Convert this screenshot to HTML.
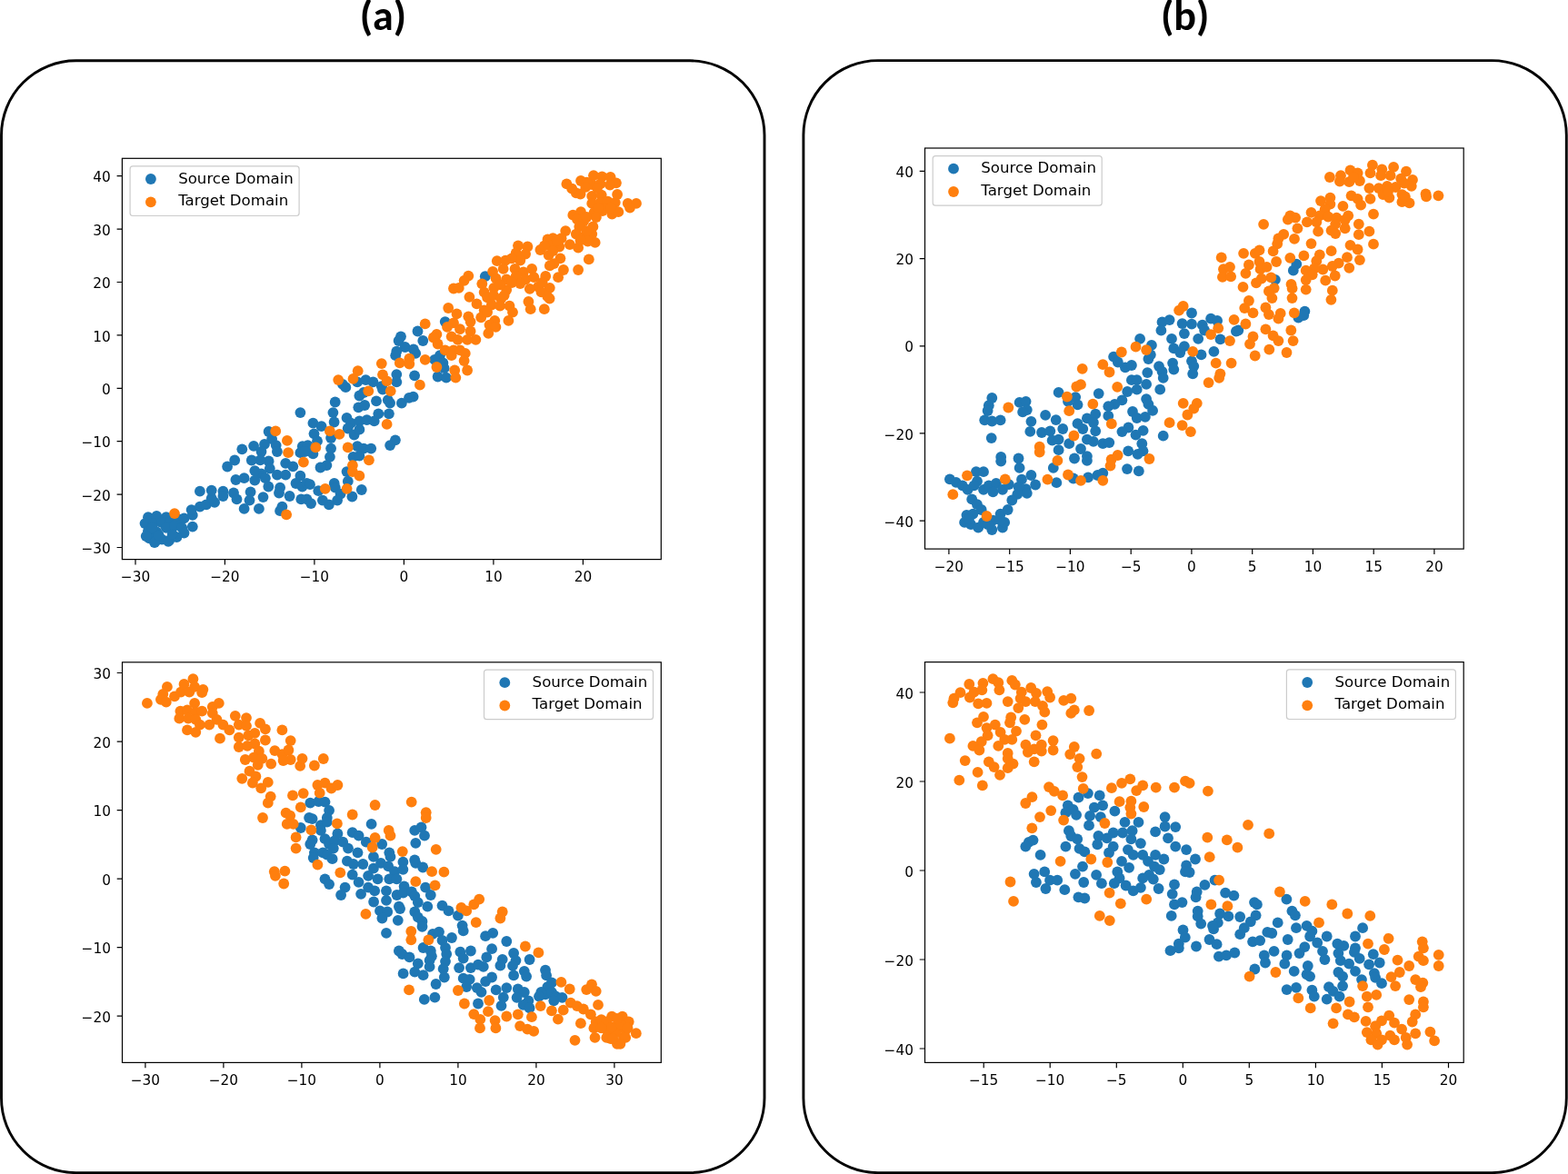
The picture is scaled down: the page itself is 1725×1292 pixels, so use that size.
<!DOCTYPE html>
<html><head><meta charset="utf-8"><title>t-SNE feature visualization</title>
<style>
html,body{margin:0;padding:0;background:#fff;width:1725px;height:1292px;overflow:hidden}
svg{display:block}
.tk{font-family:"DejaVu Sans","Liberation Sans",sans-serif;font-size:15.3px;fill:#000}
.lg{font-family:"DejaVu Sans","Liberation Sans",sans-serif;font-size:16.6px;fill:#000}
.ttl{font-family:Carlito,"Liberation Sans",sans-serif;font-weight:bold;font-size:46px;fill:#000}
</style></head><body>
<svg width="1725" height="1292" viewBox="0 0 1725 1292">
<rect width="1725" height="1292" fill="#fff"/>
<rect x="1.5" y="66.8" width="839.5" height="1223.8" rx="82" ry="82" fill="none" stroke="#000" stroke-width="2.9"/>
<rect x="883.9" y="66.6" width="839.4" height="1224.0" rx="82" ry="82" fill="none" stroke="#000" stroke-width="2.9"/>
<text x="421.4" y="32.6" class="ttl" text-anchor="middle" textLength="51.4" lengthAdjust="spacingAndGlyphs">(a)</text>
<text x="1303.7" y="32.6" class="ttl" text-anchor="middle" textLength="53.4" lengthAdjust="spacingAndGlyphs">(b)</text>
<svg x="134.4" y="174.3" width="592.9" height="441.3" viewBox="134.4 174.3 592.9 441.3" overflow="hidden"><g fill="#1f77b4"><circle cx="533.8" cy="304.2" r="5.9"/><circle cx="489.7" cy="354.1" r="5.9"/><circle cx="459.5" cy="364.5" r="5.9"/><circle cx="441.0" cy="370.3" r="5.9"/><circle cx="465.3" cy="375.0" r="5.9"/><circle cx="438.6" cy="375.0" r="5.9"/><circle cx="445.6" cy="382.0" r="5.9"/><circle cx="454.9" cy="384.3" r="5.9"/><circle cx="457.2" cy="388.9" r="5.9"/><circle cx="436.3" cy="386.6" r="5.9"/><circle cx="435.2" cy="391.2" r="5.9"/><circle cx="483.9" cy="391.2" r="5.9"/><circle cx="478.1" cy="395.9" r="5.9"/><circle cx="487.4" cy="399.4" r="5.9"/><circle cx="488.6" cy="405.2" r="5.9"/><circle cx="481.6" cy="414.5" r="5.9"/><circle cx="490.9" cy="415.6" r="5.9"/><circle cx="456.1" cy="413.3" r="5.9"/><circle cx="436.3" cy="412.1" r="5.9"/><circle cx="436.3" cy="420.3" r="5.9"/><circle cx="419.8" cy="425.1" r="5.9"/><circle cx="421.0" cy="428.6" r="5.9"/><circle cx="380.3" cy="426.2" r="5.9"/><circle cx="376.9" cy="422.8" r="5.9"/><circle cx="393.1" cy="420.4" r="5.9"/><circle cx="402.4" cy="418.1" r="5.9"/><circle cx="410.5" cy="420.4" r="5.9"/><circle cx="395.4" cy="435.5" r="5.9"/><circle cx="400.1" cy="432.0" r="5.9"/><circle cx="414.0" cy="441.3" r="5.9"/><circle cx="426.8" cy="440.2" r="5.9"/><circle cx="429.1" cy="443.6" r="5.9"/><circle cx="441.9" cy="443.6" r="5.9"/><circle cx="454.6" cy="436.7" r="5.9"/><circle cx="450.0" cy="437.8" r="5.9"/><circle cx="368.7" cy="442.5" r="5.9"/><circle cx="394.3" cy="448.3" r="5.9"/><circle cx="401.2" cy="446.0" r="5.9"/><circle cx="330.4" cy="454.1" r="5.9"/><circle cx="366.4" cy="454.1" r="5.9"/><circle cx="367.6" cy="464.5" r="5.9"/><circle cx="381.5" cy="459.9" r="5.9"/><circle cx="386.1" cy="465.7" r="5.9"/><circle cx="395.4" cy="463.4" r="5.9"/><circle cx="403.6" cy="462.2" r="5.9"/><circle cx="411.7" cy="463.4" r="5.9"/><circle cx="416.3" cy="455.3" r="5.9"/><circle cx="427.9" cy="455.3" r="5.9"/><circle cx="344.4" cy="465.7" r="5.9"/><circle cx="353.6" cy="469.2" r="5.9"/><circle cx="345.5" cy="477.3" r="5.9"/><circle cx="349.0" cy="485.4" r="5.9"/><circle cx="364.1" cy="482.0" r="5.9"/><circle cx="382.7" cy="471.5" r="5.9"/><circle cx="389.6" cy="478.5" r="5.9"/><circle cx="395.4" cy="472.7" r="5.9"/><circle cx="434.9" cy="484.3" r="5.9"/><circle cx="429.1" cy="490.1" r="5.9"/><circle cx="364.1" cy="493.6" r="5.9"/><circle cx="362.9" cy="502.8" r="5.9"/><circle cx="359.4" cy="512.1" r="5.9"/><circle cx="352.5" cy="514.5" r="5.9"/><circle cx="393.1" cy="491.2" r="5.9"/><circle cx="400.1" cy="493.6" r="5.9"/><circle cx="408.2" cy="493.6" r="5.9"/><circle cx="388.5" cy="502.8" r="5.9"/><circle cx="395.4" cy="501.7" r="5.9"/><circle cx="381.5" cy="519.1" r="5.9"/><circle cx="295.6" cy="475.0" r="5.9"/><circle cx="299.1" cy="483.1" r="5.9"/><circle cx="291.0" cy="488.9" r="5.9"/><circle cx="303.7" cy="490.1" r="5.9"/><circle cx="304.9" cy="497.0" r="5.9"/><circle cx="287.5" cy="497.0" r="5.9"/><circle cx="295.6" cy="507.5" r="5.9"/><circle cx="286.3" cy="506.3" r="5.9"/><circle cx="296.8" cy="515.6" r="5.9"/><circle cx="287.5" cy="521.4" r="5.9"/><circle cx="314.2" cy="509.8" r="5.9"/><circle cx="322.3" cy="513.3" r="5.9"/><circle cx="332.8" cy="491.2" r="5.9"/><circle cx="330.4" cy="498.2" r="5.9"/><circle cx="338.6" cy="490.1" r="5.9"/><circle cx="344.4" cy="499.4" r="5.9"/><circle cx="335.1" cy="497.0" r="5.9"/><circle cx="304.9" cy="522.6" r="5.9"/><circle cx="314.2" cy="522.6" r="5.9"/><circle cx="330.4" cy="523.7" r="5.9"/><circle cx="163.0" cy="569.2" r="5.9"/><circle cx="172.3" cy="568.0" r="5.9"/><circle cx="182.8" cy="569.2" r="5.9"/><circle cx="159.5" cy="576.1" r="5.9"/><circle cx="168.8" cy="576.1" r="5.9"/><circle cx="178.1" cy="575.0" r="5.9"/><circle cx="187.4" cy="573.8" r="5.9"/><circle cx="196.7" cy="571.5" r="5.9"/><circle cx="202.5" cy="570.3" r="5.9"/><circle cx="163.0" cy="584.3" r="5.9"/><circle cx="172.3" cy="585.4" r="5.9"/><circle cx="182.8" cy="580.8" r="5.9"/><circle cx="192.0" cy="578.5" r="5.9"/><circle cx="200.2" cy="580.8" r="5.9"/><circle cx="202.5" cy="586.6" r="5.9"/><circle cx="164.2" cy="592.4" r="5.9"/><circle cx="171.1" cy="595.9" r="5.9"/><circle cx="178.1" cy="593.6" r="5.9"/><circle cx="186.2" cy="594.7" r="5.9"/><circle cx="194.4" cy="591.2" r="5.9"/><circle cx="170.0" cy="597.0" r="5.9"/><circle cx="185.1" cy="595.9" r="5.9"/><circle cx="189.7" cy="587.8" r="5.9"/><circle cx="174.6" cy="588.9" r="5.9"/><circle cx="167.7" cy="580.8" r="5.9"/><circle cx="160.7" cy="590.1" r="5.9"/><circle cx="211.8" cy="579.6" r="5.9"/><circle cx="211.8" cy="566.9" r="5.9"/><circle cx="210.6" cy="561.1" r="5.9"/><circle cx="219.9" cy="557.6" r="5.9"/><circle cx="226.9" cy="555.3" r="5.9"/><circle cx="236.1" cy="552.9" r="5.9"/><circle cx="232.7" cy="548.3" r="5.9"/><circle cx="219.9" cy="540.7" r="5.9"/><circle cx="232.7" cy="539.6" r="5.9"/><circle cx="245.4" cy="540.7" r="5.9"/><circle cx="245.4" cy="546.0" r="5.9"/><circle cx="250.1" cy="513.5" r="5.9"/><circle cx="258.2" cy="506.5" r="5.9"/><circle cx="266.3" cy="494.3" r="5.9"/><circle cx="279.1" cy="490.8" r="5.9"/><circle cx="259.4" cy="528.0" r="5.9"/><circle cx="268.6" cy="526.2" r="5.9"/><circle cx="280.3" cy="528.6" r="5.9"/><circle cx="280.3" cy="518.1" r="5.9"/><circle cx="276.8" cy="506.5" r="5.9"/><circle cx="291.9" cy="526.2" r="5.9"/><circle cx="295.3" cy="535.5" r="5.9"/><circle cx="308.1" cy="536.7" r="5.9"/><circle cx="307.0" cy="542.5" r="5.9"/><circle cx="318.6" cy="546.0" r="5.9"/><circle cx="325.5" cy="532.0" r="5.9"/><circle cx="332.5" cy="535.5" r="5.9"/><circle cx="331.3" cy="549.4" r="5.9"/><circle cx="257.0" cy="542.5" r="5.9"/><circle cx="260.5" cy="549.4" r="5.9"/><circle cx="275.6" cy="541.3" r="5.9"/><circle cx="274.5" cy="550.6" r="5.9"/><circle cx="268.6" cy="559.9" r="5.9"/><circle cx="289.5" cy="547.1" r="5.9"/><circle cx="284.9" cy="559.9" r="5.9"/><circle cx="310.4" cy="557.6" r="5.9"/><circle cx="308.1" cy="562.2" r="5.9"/><circle cx="337.5" cy="532.0" r="5.9"/><circle cx="341.0" cy="533.2" r="5.9"/><circle cx="350.3" cy="540.2" r="5.9"/><circle cx="367.7" cy="532.0" r="5.9"/><circle cx="368.8" cy="536.7" r="5.9"/><circle cx="382.8" cy="529.7" r="5.9"/><circle cx="397.8" cy="539.0" r="5.9"/><circle cx="387.4" cy="546.5" r="5.9"/><circle cx="374.6" cy="543.6" r="5.9"/><circle cx="371.1" cy="550.6" r="5.9"/><circle cx="361.9" cy="555.3" r="5.9"/><circle cx="354.9" cy="550.6" r="5.9"/><circle cx="337.5" cy="549.4" r="5.9"/><circle cx="342.1" cy="554.1" r="5.9"/></g><g fill="#ff7f0e"><circle cx="623.4" cy="202.4" r="5.9"/><circle cx="633.8" cy="212.3" r="5.9"/><circle cx="638.5" cy="213.5" r="5.9"/><circle cx="639.0" cy="199.0" r="5.9"/><circle cx="653.0" cy="193.2" r="5.9"/><circle cx="662.3" cy="194.3" r="5.9"/><circle cx="671.6" cy="194.9" r="5.9"/><circle cx="677.9" cy="201.3" r="5.9"/><circle cx="651.2" cy="203.0" r="5.9"/><circle cx="660.5" cy="202.4" r="5.9"/><circle cx="645.4" cy="200.7" r="5.9"/><circle cx="629.2" cy="207.7" r="5.9"/><circle cx="651.2" cy="215.8" r="5.9"/><circle cx="661.7" cy="214.6" r="5.9"/><circle cx="679.1" cy="214.0" r="5.9"/><circle cx="651.2" cy="223.9" r="5.9"/><circle cx="660.5" cy="222.8" r="5.9"/><circle cx="668.6" cy="221.6" r="5.9"/><circle cx="676.8" cy="222.8" r="5.9"/><circle cx="653.6" cy="233.8" r="5.9"/><circle cx="662.8" cy="232.0" r="5.9"/><circle cx="673.3" cy="235.5" r="5.9"/><circle cx="680.3" cy="233.2" r="5.9"/><circle cx="690.7" cy="223.9" r="5.9"/><circle cx="700.0" cy="223.9" r="5.9"/><circle cx="693.0" cy="228.6" r="5.9"/><circle cx="630.3" cy="236.7" r="5.9"/><circle cx="639.0" cy="233.2" r="5.9"/><circle cx="635.0" cy="241.3" r="5.9"/><circle cx="642.0" cy="243.6" r="5.9"/><circle cx="637.3" cy="249.4" r="5.9"/><circle cx="652.4" cy="249.4" r="5.9"/><circle cx="622.2" cy="254.1" r="5.9"/><circle cx="651.2" cy="257.6" r="5.9"/><circle cx="633.8" cy="257.6" r="5.9"/><circle cx="643.1" cy="259.9" r="5.9"/><circle cx="654.7" cy="266.9" r="5.9"/><circle cx="646.6" cy="265.7" r="5.9"/><circle cx="636.1" cy="272.7" r="5.9"/><circle cx="626.9" cy="269.2" r="5.9"/><circle cx="617.6" cy="262.2" r="5.9"/><circle cx="608.3" cy="262.2" r="5.9"/><circle cx="602.5" cy="263.4" r="5.9"/><circle cx="615.3" cy="271.5" r="5.9"/><circle cx="606.0" cy="270.3" r="5.9"/><circle cx="594.4" cy="275.0" r="5.9"/><circle cx="603.6" cy="280.8" r="5.9"/><circle cx="616.4" cy="284.3" r="5.9"/><circle cx="609.4" cy="290.1" r="5.9"/><circle cx="604.8" cy="292.4" r="5.9"/><circle cx="619.9" cy="297.0" r="5.9"/><circle cx="614.1" cy="305.2" r="5.9"/><circle cx="600.2" cy="304.0" r="5.9"/><circle cx="604.8" cy="316.8" r="5.9"/><circle cx="592.0" cy="315.6" r="5.9"/><circle cx="647.8" cy="285.4" r="5.9"/><circle cx="636.1" cy="297.0" r="5.9"/><circle cx="570.0" cy="270.3" r="5.9"/><circle cx="580.4" cy="271.5" r="5.9"/><circle cx="578.1" cy="279.6" r="5.9"/><circle cx="567.7" cy="278.5" r="5.9"/><circle cx="572.3" cy="286.6" r="5.9"/><circle cx="563.0" cy="284.3" r="5.9"/><circle cx="546.8" cy="287.2" r="5.9"/><circle cx="556.1" cy="286.6" r="5.9"/><circle cx="542.1" cy="298.8" r="5.9"/><circle cx="553.7" cy="295.9" r="5.9"/><circle cx="566.5" cy="295.9" r="5.9"/><circle cx="575.8" cy="299.4" r="5.9"/><circle cx="585.1" cy="295.9" r="5.9"/><circle cx="578.1" cy="307.5" r="5.9"/><circle cx="567.7" cy="304.0" r="5.9"/><circle cx="557.2" cy="307.5" r="5.9"/><circle cx="545.6" cy="306.3" r="5.9"/><circle cx="543.3" cy="316.8" r="5.9"/><circle cx="557.2" cy="319.1" r="5.9"/><circle cx="582.8" cy="317.9" r="5.9"/><circle cx="595.5" cy="321.4" r="5.9"/><circle cx="671.0" cy="203.6" r="5.9"/><circle cx="657.0" cy="207.1" r="5.9"/><circle cx="644.3" cy="205.9" r="5.9"/><circle cx="665.2" cy="228.6" r="5.9"/><circle cx="658.2" cy="228.6" r="5.9"/><circle cx="672.1" cy="228.6" r="5.9"/><circle cx="645.4" cy="239.0" r="5.9"/><circle cx="638.5" cy="264.5" r="5.9"/><circle cx="645.4" cy="254.1" r="5.9"/><circle cx="612.9" cy="264.5" r="5.9"/><circle cx="599.0" cy="270.3" r="5.9"/><circle cx="608.3" cy="276.1" r="5.9"/><circle cx="587.4" cy="305.2" r="5.9"/><circle cx="572.3" cy="312.1" r="5.9"/><circle cx="563.0" cy="311.0" r="5.9"/><circle cx="550.3" cy="313.3" r="5.9"/><circle cx="596.7" cy="311.0" r="5.9"/><circle cx="655.9" cy="239.0" r="5.9"/><circle cx="602.3" cy="326.2" r="5.9"/><circle cx="604.6" cy="328.6" r="5.9"/><circle cx="581.4" cy="332.0" r="5.9"/><circle cx="583.7" cy="340.2" r="5.9"/><circle cx="598.8" cy="340.2" r="5.9"/><circle cx="515.3" cy="303.6" r="5.9"/><circle cx="510.6" cy="308.8" r="5.9"/><circle cx="499.0" cy="317.5" r="5.9"/><circle cx="504.8" cy="316.9" r="5.9"/><circle cx="530.3" cy="312.3" r="5.9"/><circle cx="532.7" cy="321.6" r="5.9"/><circle cx="516.4" cy="326.8" r="5.9"/><circle cx="524.5" cy="334.4" r="5.9"/><circle cx="536.1" cy="327.4" r="5.9"/><circle cx="543.1" cy="325.1" r="5.9"/><circle cx="540.8" cy="335.5" r="5.9"/><circle cx="551.2" cy="328.6" r="5.9"/><circle cx="554.7" cy="325.1" r="5.9"/><circle cx="560.5" cy="336.7" r="5.9"/><circle cx="564.0" cy="343.6" r="5.9"/><circle cx="550.1" cy="336.7" r="5.9"/><circle cx="532.7" cy="341.3" r="5.9"/><circle cx="529.2" cy="349.4" r="5.9"/><circle cx="536.1" cy="343.6" r="5.9"/><circle cx="515.3" cy="348.3" r="5.9"/><circle cx="517.6" cy="354.1" r="5.9"/><circle cx="502.5" cy="345.4" r="5.9"/><circle cx="493.2" cy="339.0" r="5.9"/><circle cx="559.4" cy="352.9" r="5.9"/><circle cx="544.3" cy="352.9" r="5.9"/><circle cx="538.5" cy="357.6" r="5.9"/><circle cx="545.4" cy="359.9" r="5.9"/><circle cx="537.3" cy="366.9" r="5.9"/><circle cx="467.7" cy="356.4" r="5.9"/><circle cx="499.0" cy="355.3" r="5.9"/><circle cx="492.0" cy="359.9" r="5.9"/><circle cx="506.0" cy="362.2" r="5.9"/><circle cx="517.6" cy="364.5" r="5.9"/><circle cx="523.4" cy="373.8" r="5.9"/><circle cx="514.1" cy="373.8" r="5.9"/><circle cx="496.7" cy="370.3" r="5.9"/><circle cx="503.6" cy="373.8" r="5.9"/><circle cx="480.4" cy="368.0" r="5.9"/><circle cx="476.9" cy="371.5" r="5.9"/><circle cx="481.6" cy="378.5" r="5.9"/><circle cx="489.7" cy="385.4" r="5.9"/><circle cx="499.0" cy="385.4" r="5.9"/><circle cx="506.0" cy="385.4" r="5.9"/><circle cx="511.8" cy="388.9" r="5.9"/><circle cx="496.7" cy="391.2" r="5.9"/><circle cx="510.6" cy="397.0" r="5.9"/><circle cx="514.1" cy="407.5" r="5.9"/><circle cx="500.2" cy="407.5" r="5.9"/><circle cx="501.3" cy="415.6" r="5.9"/><circle cx="467.7" cy="395.9" r="5.9"/><circle cx="450.3" cy="394.7" r="5.9"/><circle cx="450.3" cy="400.5" r="5.9"/><circle cx="439.8" cy="399.4" r="5.9"/><circle cx="480.4" cy="404.0" r="5.9"/><circle cx="461.9" cy="423.7" r="5.9"/><circle cx="372.2" cy="418.1" r="5.9"/><circle cx="388.5" cy="416.9" r="5.9"/><circle cx="393.7" cy="408.2" r="5.9"/><circle cx="419.8" cy="400.1" r="5.9"/><circle cx="421.0" cy="412.3" r="5.9"/><circle cx="425.6" cy="419.3" r="5.9"/><circle cx="429.7" cy="430.3" r="5.9"/><circle cx="405.3" cy="430.3" r="5.9"/><circle cx="425.6" cy="466.9" r="5.9"/><circle cx="362.9" cy="474.4" r="5.9"/><circle cx="373.4" cy="477.9" r="5.9"/><circle cx="303.2" cy="474.4" r="5.9"/><circle cx="315.9" cy="484.9" r="5.9"/><circle cx="317.1" cy="498.2" r="5.9"/><circle cx="347.3" cy="492.4" r="5.9"/><circle cx="333.9" cy="508.6" r="5.9"/><circle cx="382.7" cy="492.4" r="5.9"/><circle cx="405.9" cy="506.3" r="5.9"/><circle cx="387.9" cy="512.1" r="5.9"/><circle cx="387.9" cy="519.1" r="5.9"/><circle cx="395.4" cy="523.7" r="5.9"/><circle cx="192.0" cy="565.1" r="5.9"/><circle cx="315.1" cy="566.3" r="5.9"/><circle cx="381.6" cy="537.8" r="5.9"/><circle cx="357.8" cy="537.8" r="5.9"/></g></svg>
<rect x="134.4" y="174.3" width="592.9" height="441.3" fill="none" stroke="#000" stroke-width="1.2"/>
<text x="149.0" y="640.3" class="tk" text-anchor="middle">−30</text>
<text x="247.4" y="640.3" class="tk" text-anchor="middle">−20</text>
<text x="345.9" y="640.3" class="tk" text-anchor="middle">−10</text>
<text x="444.4" y="640.3" class="tk" text-anchor="middle">0</text>
<text x="542.9" y="640.3" class="tk" text-anchor="middle">10</text>
<text x="641.4" y="640.3" class="tk" text-anchor="middle">20</text>
<text x="121.8" y="609.2" class="tk" text-anchor="end">−30</text>
<text x="121.8" y="550.8" class="tk" text-anchor="end">−20</text>
<text x="121.8" y="492.4" class="tk" text-anchor="end">−10</text>
<text x="121.8" y="434.0" class="tk" text-anchor="end">0</text>
<text x="121.8" y="375.6" class="tk" text-anchor="end">10</text>
<text x="121.8" y="317.2" class="tk" text-anchor="end">20</text>
<text x="121.8" y="258.8" class="tk" text-anchor="end">30</text>
<text x="121.8" y="200.4" class="tk" text-anchor="end">40</text>
<path d="M149.0 615.6v5.8M247.4 615.6v5.8M345.9 615.6v5.8M444.4 615.6v5.8M542.9 615.6v5.8M641.4 615.6v5.8M134.4 602.5h-5.8M134.4 544.1h-5.8M134.4 485.7h-5.8M134.4 427.3h-5.8M134.4 368.9h-5.8M134.4 310.5h-5.8M134.4 252.1h-5.8M134.4 193.7h-5.8" stroke="#000" stroke-width="1.2" fill="none"/>
<rect x="143.1" y="182.9" width="186" height="54.6" rx="3" fill="#fff" fill-opacity="0.8" stroke="#cccccc" stroke-width="1.2"/>
<circle cx="165.9" cy="197.0" r="5.9" fill="#1f77b4"/>
<circle cx="165.9" cy="222.3" r="5.9" fill="#ff7f0e"/>
<text x="196.2" y="201.7" class="lg">Source Domain</text>
<text x="196.2" y="226.2" class="lg">Target Domain</text>
<svg x="134.5" y="728.8" width="592.8" height="440.6" viewBox="134.5 728.8 592.8 440.6" overflow="hidden"><g fill="#1f77b4"><circle cx="341.3" cy="883.7" r="5.9"/><circle cx="350.5" cy="882.0" r="5.9"/><circle cx="357.5" cy="882.6" r="5.9"/><circle cx="362.1" cy="891.8" r="5.9"/><circle cx="359.8" cy="900.0" r="5.9"/><circle cx="340.1" cy="900.0" r="5.9"/><circle cx="343.6" cy="901.1" r="5.9"/><circle cx="352.9" cy="908.1" r="5.9"/><circle cx="359.8" cy="904.6" r="5.9"/><circle cx="352.9" cy="913.9" r="5.9"/><circle cx="330.8" cy="911.0" r="5.9"/><circle cx="371.4" cy="917.4" r="5.9"/><circle cx="387.7" cy="916.2" r="5.9"/><circle cx="394.6" cy="919.7" r="5.9"/><circle cx="402.8" cy="926.7" r="5.9"/><circle cx="408.6" cy="906.9" r="5.9"/><circle cx="343.6" cy="924.3" r="5.9"/><circle cx="341.3" cy="929.0" r="5.9"/><circle cx="357.5" cy="923.2" r="5.9"/><circle cx="362.1" cy="929.0" r="5.9"/><circle cx="368.0" cy="925.5" r="5.9"/><circle cx="377.2" cy="926.7" r="5.9"/><circle cx="383.0" cy="933.6" r="5.9"/><circle cx="366.8" cy="933.6" r="5.9"/><circle cx="345.9" cy="938.3" r="5.9"/><circle cx="344.7" cy="944.1" r="5.9"/><circle cx="355.2" cy="938.3" r="5.9"/><circle cx="359.8" cy="940.6" r="5.9"/><circle cx="365.6" cy="945.2" r="5.9"/><circle cx="393.5" cy="938.3" r="5.9"/><circle cx="381.9" cy="947.6" r="5.9"/><circle cx="388.8" cy="951.0" r="5.9"/><circle cx="399.3" cy="951.0" r="5.9"/><circle cx="410.9" cy="942.9" r="5.9"/><circle cx="410.9" cy="955.7" r="5.9"/><circle cx="420.2" cy="929.0" r="5.9"/><circle cx="428.3" cy="938.3" r="5.9"/><circle cx="429.5" cy="942.9" r="5.9"/><circle cx="419.0" cy="949.9" r="5.9"/><circle cx="427.2" cy="953.4" r="5.9"/><circle cx="434.1" cy="959.2" r="5.9"/><circle cx="443.4" cy="948.7" r="5.9"/><circle cx="443.4" cy="956.8" r="5.9"/><circle cx="456.2" cy="946.4" r="5.9"/><circle cx="456.2" cy="913.9" r="5.9"/><circle cx="457.3" cy="927.8" r="5.9"/><circle cx="387.7" cy="962.6" r="5.9"/><circle cx="394.6" cy="970.8" r="5.9"/><circle cx="405.1" cy="963.8" r="5.9"/><circle cx="415.5" cy="967.3" r="5.9"/><circle cx="428.3" cy="967.3" r="5.9"/><circle cx="436.4" cy="967.3" r="5.9"/><circle cx="357.5" cy="967.3" r="5.9"/><circle cx="362.1" cy="973.1" r="5.9"/><circle cx="379.6" cy="976.6" r="5.9"/><circle cx="405.1" cy="976.6" r="5.9"/><circle cx="444.6" cy="975.4" r="5.9"/><circle cx="457.3" cy="949.9" r="5.9"/><circle cx="463.5" cy="910.4" r="5.9"/><circle cx="467.0" cy="919.7" r="5.9"/><circle cx="465.2" cy="954.5" r="5.9"/><circle cx="468.1" cy="976.6" r="5.9"/><circle cx="375.1" cy="985.0" r="5.9"/><circle cx="397.1" cy="983.8" r="5.9"/><circle cx="412.2" cy="980.3" r="5.9"/><circle cx="425.0" cy="980.3" r="5.9"/><circle cx="411.1" cy="992.5" r="5.9"/><circle cx="425.0" cy="990.8" r="5.9"/><circle cx="436.6" cy="985.0" r="5.9"/><circle cx="443.6" cy="982.6" r="5.9"/><circle cx="452.9" cy="981.5" r="5.9"/><circle cx="456.3" cy="986.1" r="5.9"/><circle cx="473.8" cy="985.0" r="5.9"/><circle cx="438.9" cy="997.7" r="5.9"/><circle cx="440.1" cy="1000.1" r="5.9"/><circle cx="459.8" cy="993.1" r="5.9"/><circle cx="470.3" cy="997.7" r="5.9"/><circle cx="486.5" cy="996.6" r="5.9"/><circle cx="493.5" cy="1002.4" r="5.9"/><circle cx="503.9" cy="1007.6" r="5.9"/><circle cx="418.0" cy="1002.4" r="5.9"/><circle cx="426.2" cy="1003.5" r="5.9"/><circle cx="420.4" cy="1010.5" r="5.9"/><circle cx="437.8" cy="1012.8" r="5.9"/><circle cx="456.3" cy="1003.5" r="5.9"/><circle cx="459.8" cy="1009.3" r="5.9"/><circle cx="464.5" cy="1014.0" r="5.9"/><circle cx="464.5" cy="1019.8" r="5.9"/><circle cx="425.0" cy="1026.8" r="5.9"/><circle cx="476.1" cy="1027.9" r="5.9"/><circle cx="483.0" cy="1025.6" r="5.9"/><circle cx="497.0" cy="1032.0" r="5.9"/><circle cx="508.6" cy="1018.6" r="5.9"/><circle cx="509.7" cy="1024.4" r="5.9"/><circle cx="486.5" cy="1034.9" r="5.9"/><circle cx="490.0" cy="1043.0" r="5.9"/><circle cx="491.2" cy="1050.0" r="5.9"/><circle cx="490.0" cy="1058.1" r="5.9"/><circle cx="487.7" cy="1066.2" r="5.9"/><circle cx="488.8" cy="1075.5" r="5.9"/><circle cx="438.9" cy="1046.5" r="5.9"/><circle cx="442.4" cy="1050.0" r="5.9"/><circle cx="450.5" cy="1053.4" r="5.9"/><circle cx="465.6" cy="1043.0" r="5.9"/><circle cx="473.8" cy="1046.5" r="5.9"/><circle cx="474.9" cy="1052.3" r="5.9"/><circle cx="472.6" cy="1056.9" r="5.9"/><circle cx="459.8" cy="1060.4" r="5.9"/><circle cx="472.6" cy="1063.9" r="5.9"/><circle cx="456.3" cy="1069.7" r="5.9"/><circle cx="465.6" cy="1073.2" r="5.9"/><circle cx="443.6" cy="1071.4" r="5.9"/><circle cx="479.6" cy="1083.0" r="5.9"/><circle cx="466.8" cy="1099.9" r="5.9"/><circle cx="478.4" cy="1097.6" r="5.9"/><circle cx="506.3" cy="1047.6" r="5.9"/><circle cx="509.7" cy="1054.6" r="5.9"/><circle cx="517.9" cy="1046.5" r="5.9"/><circle cx="505.1" cy="1065.1" r="5.9"/><circle cx="517.9" cy="1065.1" r="5.9"/><circle cx="526.0" cy="1061.6" r="5.9"/><circle cx="531.8" cy="1063.9" r="5.9"/><circle cx="535.3" cy="1053.4" r="5.9"/><circle cx="541.1" cy="1044.2" r="5.9"/><circle cx="534.1" cy="1030.2" r="5.9"/><circle cx="542.2" cy="1026.8" r="5.9"/><circle cx="557.3" cy="1036.0" r="5.9"/><circle cx="552.7" cy="1055.8" r="5.9"/><circle cx="550.4" cy="1062.7" r="5.9"/><circle cx="509.7" cy="1076.7" r="5.9"/><circle cx="516.7" cy="1077.8" r="5.9"/><circle cx="513.2" cy="1086.0" r="5.9"/><circle cx="524.8" cy="1087.1" r="5.9"/><circle cx="529.5" cy="1091.8" r="5.9"/><circle cx="534.1" cy="1080.1" r="5.9"/><circle cx="541.1" cy="1075.5" r="5.9"/><circle cx="545.7" cy="1089.4" r="5.9"/><circle cx="557.3" cy="1087.1" r="5.9"/><circle cx="553.8" cy="1097.6" r="5.9"/><circle cx="551.5" cy="1106.8" r="5.9"/><circle cx="526.0" cy="1104.5" r="5.9"/><circle cx="600.0" cy="1094.3" r="5.9"/><circle cx="609.3" cy="1095.4" r="5.9"/><circle cx="602.3" cy="1086.2" r="5.9"/><circle cx="565.1" cy="1049.0" r="5.9"/><circle cx="567.5" cy="1057.1" r="5.9"/><circle cx="564.0" cy="1062.9" r="5.9"/><circle cx="582.6" cy="1056.0" r="5.9"/><circle cx="576.8" cy="1068.8" r="5.9"/><circle cx="579.1" cy="1074.6" r="5.9"/><circle cx="565.1" cy="1073.4" r="5.9"/><circle cx="600.0" cy="1067.6" r="5.9"/><circle cx="601.1" cy="1073.4" r="5.9"/><circle cx="606.9" cy="1081.5" r="5.9"/><circle cx="569.8" cy="1088.5" r="5.9"/><circle cx="576.8" cy="1092.0" r="5.9"/><circle cx="568.6" cy="1097.8" r="5.9"/><circle cx="581.4" cy="1101.3" r="5.9"/><circle cx="575.6" cy="1105.9" r="5.9"/><circle cx="582.6" cy="1109.4" r="5.9"/><circle cx="595.3" cy="1092.0" r="5.9"/><circle cx="593.0" cy="1096.6" r="5.9"/><circle cx="606.9" cy="1092.0" r="5.9"/><circle cx="611.6" cy="1096.6" r="5.9"/><circle cx="618.5" cy="1097.8" r="5.9"/><circle cx="609.3" cy="1101.3" r="5.9"/></g><g fill="#ff7f0e"><circle cx="161.9" cy="773.9" r="5.9"/><circle cx="183.9" cy="755.9" r="5.9"/><circle cx="179.3" cy="764.0" r="5.9"/><circle cx="176.9" cy="769.8" r="5.9"/><circle cx="182.8" cy="772.7" r="5.9"/><circle cx="192.0" cy="766.3" r="5.9"/><circle cx="199.0" cy="761.7" r="5.9"/><circle cx="202.5" cy="753.0" r="5.9"/><circle cx="208.3" cy="761.7" r="5.9"/><circle cx="212.4" cy="747.2" r="5.9"/><circle cx="214.1" cy="755.9" r="5.9"/><circle cx="223.4" cy="758.8" r="5.9"/><circle cx="222.2" cy="762.2" r="5.9"/><circle cx="198.4" cy="782.6" r="5.9"/><circle cx="197.3" cy="790.7" r="5.9"/><circle cx="206.0" cy="781.4" r="5.9"/><circle cx="214.1" cy="773.9" r="5.9"/><circle cx="215.3" cy="783.7" r="5.9"/><circle cx="222.2" cy="782.6" r="5.9"/><circle cx="207.1" cy="790.7" r="5.9"/><circle cx="215.3" cy="791.8" r="5.9"/><circle cx="206.0" cy="803.4" r="5.9"/><circle cx="215.3" cy="805.8" r="5.9"/><circle cx="219.9" cy="797.6" r="5.9"/><circle cx="230.3" cy="797.6" r="5.9"/><circle cx="233.8" cy="777.9" r="5.9"/><circle cx="240.8" cy="773.9" r="5.9"/><circle cx="233.8" cy="784.9" r="5.9"/><circle cx="238.5" cy="791.8" r="5.9"/><circle cx="245.4" cy="797.6" r="5.9"/><circle cx="252.4" cy="803.4" r="5.9"/><circle cx="242.0" cy="812.7" r="5.9"/><circle cx="258.8" cy="787.8" r="5.9"/><circle cx="271.0" cy="790.1" r="5.9"/><circle cx="262.8" cy="797.6" r="5.9"/><circle cx="271.0" cy="798.8" r="5.9"/><circle cx="286.1" cy="795.9" r="5.9"/><circle cx="291.9" cy="802.3" r="5.9"/><circle cx="262.8" cy="811.6" r="5.9"/><circle cx="273.3" cy="809.3" r="5.9"/><circle cx="280.3" cy="806.9" r="5.9"/><circle cx="291.9" cy="814.5" r="5.9"/><circle cx="262.8" cy="822.0" r="5.9"/><circle cx="272.1" cy="820.9" r="5.9"/><circle cx="280.3" cy="818.5" r="5.9"/><circle cx="284.9" cy="826.7" r="5.9"/><circle cx="269.8" cy="836.0" r="5.9"/><circle cx="279.1" cy="833.6" r="5.9"/><circle cx="288.4" cy="834.8" r="5.9"/><circle cx="283.7" cy="841.8" r="5.9"/><circle cx="298.2" cy="840.6" r="5.9"/><circle cx="302.3" cy="826.1" r="5.9"/><circle cx="310.4" cy="830.1" r="5.9"/><circle cx="317.4" cy="825.5" r="5.9"/><circle cx="319.7" cy="815.1" r="5.9"/><circle cx="310.4" cy="803.4" r="5.9"/><circle cx="319.7" cy="836.0" r="5.9"/><circle cx="311.6" cy="837.1" r="5.9"/><circle cx="330.2" cy="842.9" r="5.9"/><circle cx="332.5" cy="834.8" r="5.9"/><circle cx="266.3" cy="856.8" r="5.9"/><circle cx="274.5" cy="848.7" r="5.9"/><circle cx="281.4" cy="854.5" r="5.9"/><circle cx="277.9" cy="861.5" r="5.9"/><circle cx="287.2" cy="867.3" r="5.9"/><circle cx="294.8" cy="860.9" r="5.9"/><circle cx="297.7" cy="876.6" r="5.9"/><circle cx="322.0" cy="875.4" r="5.9"/><circle cx="333.7" cy="873.1" r="5.9"/><circle cx="345.9" cy="842.5" r="5.9"/><circle cx="355.8" cy="835.0" r="5.9"/><circle cx="294.8" cy="883.7" r="5.9"/><circle cx="289.0" cy="900.0" r="5.9"/><circle cx="349.4" cy="864.0" r="5.9"/><circle cx="357.5" cy="861.7" r="5.9"/><circle cx="364.5" cy="867.5" r="5.9"/><circle cx="371.4" cy="864.0" r="5.9"/><circle cx="351.7" cy="872.7" r="5.9"/><circle cx="330.8" cy="888.4" r="5.9"/><circle cx="314.6" cy="894.7" r="5.9"/><circle cx="319.2" cy="897.6" r="5.9"/><circle cx="315.7" cy="906.9" r="5.9"/><circle cx="322.7" cy="906.9" r="5.9"/><circle cx="342.4" cy="913.3" r="5.9"/><circle cx="370.9" cy="906.4" r="5.9"/><circle cx="387.7" cy="896.5" r="5.9"/><circle cx="412.6" cy="886.0" r="5.9"/><circle cx="452.7" cy="882.6" r="5.9"/><circle cx="325.6" cy="921.4" r="5.9"/><circle cx="325.6" cy="933.6" r="5.9"/><circle cx="412.6" cy="922.0" r="5.9"/><circle cx="409.7" cy="932.5" r="5.9"/><circle cx="427.7" cy="913.9" r="5.9"/><circle cx="429.5" cy="919.7" r="5.9"/><circle cx="442.8" cy="937.1" r="5.9"/><circle cx="349.4" cy="951.6" r="5.9"/><circle cx="374.3" cy="960.3" r="5.9"/><circle cx="301.8" cy="959.2" r="5.9"/><circle cx="313.4" cy="958.6" r="5.9"/><circle cx="302.9" cy="963.8" r="5.9"/><circle cx="312.2" cy="972.5" r="5.9"/><circle cx="457.3" cy="970.2" r="5.9"/><circle cx="468.7" cy="894.2" r="5.9"/><circle cx="468.7" cy="900.0" r="5.9"/><circle cx="479.7" cy="934.8" r="5.9"/><circle cx="475.1" cy="959.2" r="5.9"/><circle cx="488.4" cy="959.7" r="5.9"/><circle cx="478.6" cy="974.3" r="5.9"/><circle cx="402.4" cy="1005.9" r="5.9"/><circle cx="507.4" cy="998.9" r="5.9"/><circle cx="513.2" cy="1002.4" r="5.9"/><circle cx="521.3" cy="995.4" r="5.9"/><circle cx="527.2" cy="989.6" r="5.9"/><circle cx="552.7" cy="1003.5" r="5.9"/><circle cx="550.4" cy="1010.5" r="5.9"/><circle cx="523.7" cy="1015.1" r="5.9"/><circle cx="452.3" cy="1025.0" r="5.9"/><circle cx="452.3" cy="1034.3" r="5.9"/><circle cx="471.4" cy="1034.3" r="5.9"/><circle cx="450.0" cy="1089.4" r="5.9"/><circle cx="503.9" cy="1090.0" r="5.9"/><circle cx="510.9" cy="1104.5" r="5.9"/><circle cx="538.2" cy="1101.0" r="5.9"/><circle cx="537.0" cy="1113.2" r="5.9"/><circle cx="521.3" cy="1116.1" r="5.9"/><circle cx="528.3" cy="1121.9" r="5.9"/><circle cx="544.6" cy="1123.1" r="5.9"/><circle cx="557.3" cy="1118.5" r="5.9"/><circle cx="577.9" cy="1041.5" r="5.9"/><circle cx="592.4" cy="1048.4" r="5.9"/><circle cx="617.4" cy="1080.9" r="5.9"/><circle cx="626.7" cy="1088.5" r="5.9"/><circle cx="645.2" cy="1089.1" r="5.9"/><circle cx="651.0" cy="1083.3" r="5.9"/><circle cx="655.7" cy="1090.8" r="5.9"/><circle cx="658.0" cy="1105.9" r="5.9"/><circle cx="528.0" cy="1131.4" r="5.9"/><circle cx="545.4" cy="1131.4" r="5.9"/><circle cx="569.8" cy="1116.3" r="5.9"/><circle cx="584.9" cy="1119.2" r="5.9"/><circle cx="572.1" cy="1129.1" r="5.9"/><circle cx="580.2" cy="1132.6" r="5.9"/><circle cx="587.2" cy="1134.9" r="5.9"/><circle cx="594.7" cy="1107.1" r="5.9"/><circle cx="606.9" cy="1112.3" r="5.9"/><circle cx="619.7" cy="1111.7" r="5.9"/><circle cx="613.9" cy="1121.6" r="5.9"/><circle cx="627.8" cy="1103.6" r="5.9"/><circle cx="634.8" cy="1107.1" r="5.9"/><circle cx="641.8" cy="1110.5" r="5.9"/><circle cx="649.9" cy="1116.3" r="5.9"/><circle cx="638.9" cy="1126.2" r="5.9"/><circle cx="655.7" cy="1124.5" r="5.9"/><circle cx="653.4" cy="1131.4" r="5.9"/><circle cx="654.5" cy="1141.9" r="5.9"/><circle cx="632.5" cy="1144.8" r="5.9"/><circle cx="661.5" cy="1122.1" r="5.9"/><circle cx="673.1" cy="1118.7" r="5.9"/><circle cx="684.7" cy="1118.7" r="5.9"/><circle cx="691.7" cy="1124.5" r="5.9"/><circle cx="668.5" cy="1134.9" r="5.9"/><circle cx="678.9" cy="1129.1" r="5.9"/><circle cx="688.2" cy="1133.8" r="5.9"/><circle cx="671.9" cy="1143.0" r="5.9"/><circle cx="678.9" cy="1148.8" r="5.9"/><circle cx="685.9" cy="1141.9" r="5.9"/><circle cx="699.8" cy="1137.2" r="5.9"/><circle cx="677.7" cy="1136.1" r="5.9"/><circle cx="667.3" cy="1124.5" r="5.9"/><circle cx="673.1" cy="1130.3" r="5.9"/><circle cx="683.5" cy="1128.0" r="5.9"/><circle cx="688.2" cy="1141.9" r="5.9"/><circle cx="667.3" cy="1141.9" r="5.9"/><circle cx="682.4" cy="1148.8" r="5.9"/><circle cx="661.5" cy="1131.4" r="5.9"/><circle cx="678.9" cy="1121.0" r="5.9"/><circle cx="690.5" cy="1131.4" r="5.9"/><circle cx="674.3" cy="1143.0" r="5.9"/></g></svg>
<rect x="134.5" y="728.8" width="592.8" height="440.6" fill="none" stroke="#000" stroke-width="1.2"/>
<text x="159.9" y="1194.1" class="tk" text-anchor="middle">−30</text>
<text x="245.9" y="1194.1" class="tk" text-anchor="middle">−20</text>
<text x="331.9" y="1194.1" class="tk" text-anchor="middle">−10</text>
<text x="417.9" y="1194.1" class="tk" text-anchor="middle">0</text>
<text x="503.9" y="1194.1" class="tk" text-anchor="middle">10</text>
<text x="589.9" y="1194.1" class="tk" text-anchor="middle">20</text>
<text x="675.9" y="1194.1" class="tk" text-anchor="middle">30</text>
<text x="121.9" y="1124.8" class="tk" text-anchor="end">−20</text>
<text x="121.9" y="1049.3" class="tk" text-anchor="end">−10</text>
<text x="121.9" y="973.8" class="tk" text-anchor="end">0</text>
<text x="121.9" y="898.3" class="tk" text-anchor="end">10</text>
<text x="121.9" y="822.8" class="tk" text-anchor="end">20</text>
<text x="121.9" y="747.2" class="tk" text-anchor="end">30</text>
<path d="M159.9 1169.4v5.8M245.9 1169.4v5.8M331.9 1169.4v5.8M417.9 1169.4v5.8M503.9 1169.4v5.8M589.9 1169.4v5.8M675.9 1169.4v5.8M134.5 1118.1h-5.8M134.5 1042.6h-5.8M134.5 967.1h-5.8M134.5 891.6h-5.8M134.5 816.1h-5.8M134.5 740.5h-5.8" stroke="#000" stroke-width="1.2" fill="none"/>
<rect x="532.5" y="737.1" width="186" height="54.6" rx="3" fill="#fff" fill-opacity="0.8" stroke="#cccccc" stroke-width="1.2"/>
<circle cx="555.3" cy="751.2" r="5.9" fill="#1f77b4"/>
<circle cx="555.3" cy="776.5" r="5.9" fill="#ff7f0e"/>
<text x="585.6" y="755.9" class="lg">Source Domain</text>
<text x="585.6" y="780.4" class="lg">Target Domain</text>
<svg x="1017.5" y="163.0" width="592.7" height="441.1" viewBox="1017.5 163.0 592.7 441.1" overflow="hidden"><g fill="#1f77b4"><circle cx="1426.3" cy="290.7" r="5.9"/><circle cx="1422.8" cy="297.7" r="5.9"/><circle cx="1402.9" cy="307.8" r="5.9"/><circle cx="1435.4" cy="342.6" r="5.9"/><circle cx="1428.4" cy="349.6" r="5.9"/><circle cx="1434.2" cy="347.2" r="5.9"/><circle cx="1332.1" cy="350.7" r="5.9"/><circle cx="1339.1" cy="353.0" r="5.9"/><circle cx="1322.8" cy="357.7" r="5.9"/><circle cx="1325.1" cy="363.5" r="5.9"/><circle cx="1359.9" cy="364.6" r="5.9"/><circle cx="1362.3" cy="363.5" r="5.9"/><circle cx="1342.5" cy="373.4" r="5.9"/><circle cx="1318.2" cy="372.8" r="5.9"/><circle cx="1278.5" cy="354.4" r="5.9"/><circle cx="1286.6" cy="352.1" r="5.9"/><circle cx="1277.4" cy="363.7" r="5.9"/><circle cx="1300.6" cy="356.1" r="5.9"/><circle cx="1311.0" cy="344.5" r="5.9"/><circle cx="1311.0" cy="356.7" r="5.9"/><circle cx="1302.9" cy="367.1" r="5.9"/><circle cx="1289.0" cy="372.9" r="5.9"/><circle cx="1254.1" cy="372.9" r="5.9"/><circle cx="1266.9" cy="379.9" r="5.9"/><circle cx="1291.3" cy="383.4" r="5.9"/><circle cx="1302.9" cy="381.1" r="5.9"/><circle cx="1298.3" cy="388.0" r="5.9"/><circle cx="1321.5" cy="390.4" r="5.9"/><circle cx="1335.4" cy="386.9" r="5.9"/><circle cx="1263.4" cy="395.0" r="5.9"/><circle cx="1265.8" cy="390.4" r="5.9"/><circle cx="1225.1" cy="392.7" r="5.9"/><circle cx="1229.8" cy="398.5" r="5.9"/><circle cx="1237.9" cy="404.3" r="5.9"/><circle cx="1244.9" cy="402.0" r="5.9"/><circle cx="1275.0" cy="403.1" r="5.9"/><circle cx="1278.5" cy="408.9" r="5.9"/><circle cx="1279.7" cy="415.9" r="5.9"/><circle cx="1290.1" cy="399.6" r="5.9"/><circle cx="1291.3" cy="406.6" r="5.9"/><circle cx="1311.0" cy="397.3" r="5.9"/><circle cx="1313.3" cy="403.1" r="5.9"/><circle cx="1312.2" cy="411.3" r="5.9"/><circle cx="1262.3" cy="410.1" r="5.9"/><circle cx="1244.9" cy="418.2" r="5.9"/><circle cx="1250.7" cy="418.2" r="5.9"/><circle cx="1261.1" cy="422.9" r="5.9"/><circle cx="1250.7" cy="428.7" r="5.9"/><circle cx="1240.2" cy="431.0" r="5.9"/><circle cx="1276.2" cy="428.7" r="5.9"/><circle cx="1234.4" cy="440.3" r="5.9"/><circle cx="1226.3" cy="444.9" r="5.9"/><circle cx="1219.3" cy="447.2" r="5.9"/><circle cx="1261.1" cy="439.1" r="5.9"/><circle cx="1263.4" cy="444.9" r="5.9"/><circle cx="1268.1" cy="451.9" r="5.9"/><circle cx="1246.0" cy="453.0" r="5.9"/><circle cx="1250.7" cy="460.0" r="5.9"/><circle cx="1259.9" cy="458.8" r="5.9"/><circle cx="1219.3" cy="457.7" r="5.9"/><circle cx="1241.4" cy="470.5" r="5.9"/><circle cx="1234.4" cy="475.1" r="5.9"/><circle cx="1257.6" cy="473.9" r="5.9"/><circle cx="1249.5" cy="478.6" r="5.9"/><circle cx="1279.7" cy="479.7" r="5.9"/><circle cx="1121.6" cy="442.9" r="5.9"/><circle cx="1128.6" cy="441.8" r="5.9"/><circle cx="1129.8" cy="451.1" r="5.9"/><circle cx="1125.1" cy="453.4" r="5.9"/><circle cx="1134.4" cy="463.8" r="5.9"/><circle cx="1133.3" cy="474.9" r="5.9"/><circle cx="1146.0" cy="476.0" r="5.9"/><circle cx="1150.1" cy="456.9" r="5.9"/><circle cx="1161.7" cy="462.1" r="5.9"/><circle cx="1155.3" cy="474.3" r="5.9"/><circle cx="1169.2" cy="472.0" r="5.9"/><circle cx="1164.6" cy="431.9" r="5.9"/><circle cx="1183.2" cy="437.1" r="5.9"/><circle cx="1185.5" cy="445.3" r="5.9"/><circle cx="1175.0" cy="441.8" r="5.9"/><circle cx="1208.7" cy="433.1" r="5.9"/><circle cx="1157.6" cy="484.7" r="5.9"/><circle cx="1164.6" cy="483.6" r="5.9"/><circle cx="1164.6" cy="495.2" r="5.9"/><circle cx="1176.2" cy="488.2" r="5.9"/><circle cx="1185.5" cy="466.2" r="5.9"/><circle cx="1191.3" cy="472.0" r="5.9"/><circle cx="1195.9" cy="460.4" r="5.9"/><circle cx="1205.2" cy="455.7" r="5.9"/><circle cx="1202.9" cy="465.0" r="5.9"/><circle cx="1205.2" cy="474.3" r="5.9"/><circle cx="1195.9" cy="483.6" r="5.9"/><circle cx="1202.9" cy="485.9" r="5.9"/><circle cx="1189.0" cy="494.0" r="5.9"/><circle cx="1195.9" cy="502.1" r="5.9"/><circle cx="1195.9" cy="506.8" r="5.9"/><circle cx="1182.0" cy="504.5" r="5.9"/><circle cx="1213.3" cy="488.2" r="5.9"/><circle cx="1220.3" cy="487.1" r="5.9"/><circle cx="1256.3" cy="488.2" r="5.9"/><circle cx="1257.5" cy="496.3" r="5.9"/><circle cx="1251.6" cy="499.8" r="5.9"/><circle cx="1241.2" cy="496.3" r="5.9"/><circle cx="1240.0" cy="516.1" r="5.9"/><circle cx="1252.8" cy="518.4" r="5.9"/><circle cx="1213.3" cy="520.7" r="5.9"/><circle cx="1207.5" cy="523.0" r="5.9"/><circle cx="1197.1" cy="525.4" r="5.9"/><circle cx="1180.8" cy="526.5" r="5.9"/><circle cx="1162.3" cy="531.2" r="5.9"/><circle cx="1158.8" cy="514.9" r="5.9"/><circle cx="1120.5" cy="504.5" r="5.9"/><circle cx="1121.6" cy="514.9" r="5.9"/><circle cx="1134.4" cy="523.0" r="5.9"/><circle cx="1124.0" cy="527.7" r="5.9"/><circle cx="1139.1" cy="533.5" r="5.9"/><circle cx="1128.6" cy="538.1" r="5.9"/><circle cx="1120.5" cy="535.8" r="5.9"/><circle cx="1129.8" cy="542.8" r="5.9"/><circle cx="1119.3" cy="543.9" r="5.9"/><circle cx="1083.2" cy="462.3" r="5.9"/><circle cx="1091.3" cy="463.5" r="5.9"/><circle cx="1100.6" cy="462.3" r="5.9"/><circle cx="1090.7" cy="482.1" r="5.9"/><circle cx="1101.2" cy="502.9" r="5.9"/><circle cx="1101.2" cy="507.6" r="5.9"/><circle cx="1044.9" cy="527.3" r="5.9"/><circle cx="1051.8" cy="530.8" r="5.9"/><circle cx="1058.8" cy="534.3" r="5.9"/><circle cx="1064.6" cy="538.9" r="5.9"/><circle cx="1073.9" cy="519.2" r="5.9"/><circle cx="1082.0" cy="519.2" r="5.9"/><circle cx="1075.0" cy="529.6" r="5.9"/><circle cx="1071.6" cy="534.3" r="5.9"/><circle cx="1082.0" cy="538.9" r="5.9"/><circle cx="1087.8" cy="534.3" r="5.9"/><circle cx="1095.9" cy="532.0" r="5.9"/><circle cx="1092.4" cy="541.3" r="5.9"/><circle cx="1102.9" cy="538.9" r="5.9"/><circle cx="1109.9" cy="533.1" r="5.9"/><circle cx="1069.2" cy="549.4" r="5.9"/><circle cx="1075.0" cy="555.2" r="5.9"/><circle cx="1079.7" cy="561.0" r="5.9"/><circle cx="1063.4" cy="566.8" r="5.9"/><circle cx="1070.4" cy="565.6" r="5.9"/><circle cx="1061.1" cy="574.9" r="5.9"/><circle cx="1068.1" cy="577.2" r="5.9"/><circle cx="1076.2" cy="580.7" r="5.9"/><circle cx="1082.0" cy="574.9" r="5.9"/><circle cx="1091.3" cy="583.0" r="5.9"/><circle cx="1092.4" cy="572.6" r="5.9"/><circle cx="1100.6" cy="565.6" r="5.9"/><circle cx="1108.7" cy="561.0" r="5.9"/><circle cx="1113.3" cy="550.5" r="5.9"/><circle cx="1102.9" cy="580.7" r="5.9"/><circle cx="1105.2" cy="574.9" r="5.9"/><circle cx="1100.6" cy="572.6" r="5.9"/><circle cx="1091.3" cy="438.0" r="5.9"/><circle cx="1087.8" cy="446.2" r="5.9"/><circle cx="1086.6" cy="452.0" r="5.9"/><circle cx="1086.6" cy="577.2" r="5.9"/><circle cx="1065.8" cy="571.4" r="5.9"/></g><g fill="#ff7f0e"><circle cx="1462.9" cy="195.0" r="5.9"/><circle cx="1475.0" cy="193.2" r="5.9"/><circle cx="1473.9" cy="199.6" r="5.9"/><circle cx="1485.5" cy="187.4" r="5.9"/><circle cx="1484.3" cy="200.2" r="5.9"/><circle cx="1493.6" cy="190.3" r="5.9"/><circle cx="1495.9" cy="199.0" r="5.9"/><circle cx="1489.0" cy="195.0" r="5.9"/><circle cx="1509.9" cy="181.6" r="5.9"/><circle cx="1507.5" cy="190.3" r="5.9"/><circle cx="1520.3" cy="186.3" r="5.9"/><circle cx="1519.1" cy="193.2" r="5.9"/><circle cx="1533.1" cy="183.9" r="5.9"/><circle cx="1529.6" cy="193.2" r="5.9"/><circle cx="1547.0" cy="188.6" r="5.9"/><circle cx="1554.0" cy="197.9" r="5.9"/><circle cx="1541.2" cy="196.7" r="5.9"/><circle cx="1552.8" cy="204.8" r="5.9"/><circle cx="1506.4" cy="207.1" r="5.9"/><circle cx="1516.8" cy="207.1" r="5.9"/><circle cx="1526.1" cy="204.8" r="5.9"/><circle cx="1535.4" cy="206.0" r="5.9"/><circle cx="1521.5" cy="214.1" r="5.9"/><circle cx="1528.4" cy="217.6" r="5.9"/><circle cx="1542.4" cy="214.1" r="5.9"/><circle cx="1542.4" cy="222.2" r="5.9"/><circle cx="1550.5" cy="223.4" r="5.9"/><circle cx="1545.8" cy="216.4" r="5.9"/><circle cx="1507.5" cy="218.8" r="5.9"/><circle cx="1486.6" cy="215.3" r="5.9"/><circle cx="1493.6" cy="218.8" r="5.9"/><circle cx="1497.1" cy="225.7" r="5.9"/><circle cx="1568.5" cy="213.5" r="5.9"/><circle cx="1569.1" cy="216.4" r="5.9"/><circle cx="1582.4" cy="215.3" r="5.9"/><circle cx="1511.0" cy="235.6" r="5.9"/><circle cx="1453.0" cy="221.1" r="5.9"/><circle cx="1463.4" cy="217.6" r="5.9"/><circle cx="1463.4" cy="224.6" r="5.9"/><circle cx="1457.6" cy="230.4" r="5.9"/><circle cx="1477.4" cy="226.9" r="5.9"/><circle cx="1442.5" cy="233.8" r="5.9"/><circle cx="1451.8" cy="237.3" r="5.9"/><circle cx="1461.1" cy="238.5" r="5.9"/><circle cx="1470.4" cy="239.6" r="5.9"/><circle cx="1483.2" cy="237.3" r="5.9"/><circle cx="1479.7" cy="242.0" r="5.9"/><circle cx="1437.9" cy="244.3" r="5.9"/><circle cx="1448.3" cy="244.3" r="5.9"/><circle cx="1469.2" cy="246.6" r="5.9"/><circle cx="1479.7" cy="251.3" r="5.9"/><circle cx="1494.8" cy="246.6" r="5.9"/><circle cx="1427.4" cy="251.3" r="5.9"/><circle cx="1419.3" cy="237.3" r="5.9"/><circle cx="1425.1" cy="239.6" r="5.9"/><circle cx="1450.1" cy="254.7" r="5.9"/><circle cx="1464.6" cy="253.6" r="5.9"/><circle cx="1469.2" cy="257.1" r="5.9"/><circle cx="1494.8" cy="258.2" r="5.9"/><circle cx="1506.4" cy="254.7" r="5.9"/><circle cx="1424.0" cy="262.9" r="5.9"/><circle cx="1442.5" cy="268.1" r="5.9"/><circle cx="1511.0" cy="268.7" r="5.9"/><circle cx="1485.5" cy="269.8" r="5.9"/><circle cx="1493.6" cy="274.5" r="5.9"/><circle cx="1464.6" cy="276.2" r="5.9"/><circle cx="1434.4" cy="281.4" r="5.9"/><circle cx="1419.3" cy="283.8" r="5.9"/><circle cx="1451.8" cy="280.3" r="5.9"/><circle cx="1448.3" cy="287.2" r="5.9"/><circle cx="1482.0" cy="283.2" r="5.9"/><circle cx="1495.9" cy="286.1" r="5.9"/><circle cx="1472.7" cy="289.6" r="5.9"/><circle cx="1465.8" cy="293.0" r="5.9"/><circle cx="1484.3" cy="294.8" r="5.9"/><circle cx="1455.3" cy="296.5" r="5.9"/><circle cx="1446.0" cy="295.4" r="5.9"/><circle cx="1436.7" cy="297.7" r="5.9"/><circle cx="1443.7" cy="302.3" r="5.9"/><circle cx="1436.7" cy="308.1" r="5.9"/><circle cx="1468.7" cy="303.5" r="5.9"/><circle cx="1458.2" cy="308.7" r="5.9"/><circle cx="1420.5" cy="312.8" r="5.9"/><circle cx="1421.6" cy="317.4" r="5.9"/><circle cx="1436.7" cy="318.6" r="5.9"/><circle cx="1465.8" cy="319.7" r="5.9"/><circle cx="1390.1" cy="246.8" r="5.9"/><circle cx="1416.8" cy="241.6" r="5.9"/><circle cx="1412.2" cy="257.9" r="5.9"/><circle cx="1406.4" cy="262.5" r="5.9"/><circle cx="1405.2" cy="268.3" r="5.9"/><circle cx="1400.6" cy="276.4" r="5.9"/><circle cx="1421.5" cy="328.1" r="5.9"/><circle cx="1464.4" cy="329.8" r="5.9"/><circle cx="1343.7" cy="283.4" r="5.9"/><circle cx="1346.0" cy="296.2" r="5.9"/><circle cx="1353.0" cy="293.8" r="5.9"/><circle cx="1344.9" cy="304.9" r="5.9"/><circle cx="1354.1" cy="304.3" r="5.9"/><circle cx="1368.1" cy="278.8" r="5.9"/><circle cx="1380.8" cy="278.8" r="5.9"/><circle cx="1385.5" cy="275.3" r="5.9"/><circle cx="1373.9" cy="291.5" r="5.9"/><circle cx="1370.4" cy="300.8" r="5.9"/><circle cx="1385.5" cy="288.0" r="5.9"/><circle cx="1386.6" cy="296.2" r="5.9"/><circle cx="1393.6" cy="293.8" r="5.9"/><circle cx="1404.1" cy="288.0" r="5.9"/><circle cx="1398.3" cy="305.4" r="5.9"/><circle cx="1382.0" cy="311.3" r="5.9"/><circle cx="1387.8" cy="306.6" r="5.9"/><circle cx="1367.5" cy="315.9" r="5.9"/><circle cx="1401.7" cy="317.1" r="5.9"/><circle cx="1395.9" cy="320.5" r="5.9"/><circle cx="1399.4" cy="328.1" r="5.9"/><circle cx="1373.9" cy="331.0" r="5.9"/><circle cx="1369.2" cy="339.1" r="5.9"/><circle cx="1378.5" cy="344.3" r="5.9"/><circle cx="1392.4" cy="338.5" r="5.9"/><circle cx="1395.9" cy="346.1" r="5.9"/><circle cx="1408.7" cy="344.9" r="5.9"/><circle cx="1406.4" cy="350.7" r="5.9"/><circle cx="1423.8" cy="344.3" r="5.9"/><circle cx="1357.6" cy="351.9" r="5.9"/><circle cx="1370.4" cy="356.5" r="5.9"/><circle cx="1340.2" cy="361.2" r="5.9"/><circle cx="1332.1" cy="368.1" r="5.9"/><circle cx="1378.5" cy="370.5" r="5.9"/><circle cx="1392.4" cy="362.3" r="5.9"/><circle cx="1400.6" cy="369.3" r="5.9"/><circle cx="1406.4" cy="375.1" r="5.9"/><circle cx="1420.3" cy="363.5" r="5.9"/><circle cx="1422.6" cy="375.1" r="5.9"/><circle cx="1353.0" cy="375.1" r="5.9"/><circle cx="1375.0" cy="378.6" r="5.9"/><circle cx="1297.1" cy="341.6" r="5.9"/><circle cx="1301.7" cy="337.0" r="5.9"/><circle cx="1380.7" cy="391.5" r="5.9"/><circle cx="1396.3" cy="384.6" r="5.9"/><circle cx="1415.5" cy="388.0" r="5.9"/><circle cx="1312.2" cy="386.9" r="5.9"/><circle cx="1261.1" cy="385.1" r="5.9"/><circle cx="1249.5" cy="381.7" r="5.9"/><circle cx="1233.8" cy="387.5" r="5.9"/><circle cx="1220.5" cy="409.5" r="5.9"/><circle cx="1229.2" cy="425.8" r="5.9"/><circle cx="1337.7" cy="399.6" r="5.9"/><circle cx="1354.6" cy="399.6" r="5.9"/><circle cx="1342.4" cy="411.3" r="5.9"/><circle cx="1341.2" cy="415.9" r="5.9"/><circle cx="1329.6" cy="421.1" r="5.9"/><circle cx="1301.7" cy="443.8" r="5.9"/><circle cx="1316.8" cy="443.8" r="5.9"/><circle cx="1313.3" cy="449.6" r="5.9"/><circle cx="1306.4" cy="456.5" r="5.9"/><circle cx="1286.6" cy="465.2" r="5.9"/><circle cx="1300.6" cy="468.1" r="5.9"/><circle cx="1309.9" cy="475.1" r="5.9"/><circle cx="1222.8" cy="466.4" r="5.9"/><circle cx="1190.7" cy="405.8" r="5.9"/><circle cx="1213.3" cy="401.2" r="5.9"/><circle cx="1189.0" cy="423.2" r="5.9"/><circle cx="1184.3" cy="425.5" r="5.9"/><circle cx="1173.9" cy="436.6" r="5.9"/><circle cx="1176.2" cy="452.2" r="5.9"/><circle cx="1202.3" cy="444.7" r="5.9"/><circle cx="1181.4" cy="479.5" r="5.9"/><circle cx="1143.7" cy="491.7" r="5.9"/><circle cx="1143.7" cy="497.5" r="5.9"/><circle cx="1163.4" cy="506.8" r="5.9"/><circle cx="1175.0" cy="522.5" r="5.9"/><circle cx="1189.0" cy="528.8" r="5.9"/><circle cx="1152.4" cy="527.7" r="5.9"/><circle cx="1213.3" cy="528.8" r="5.9"/><circle cx="1221.5" cy="512.6" r="5.9"/><circle cx="1222.6" cy="505.6" r="5.9"/><circle cx="1229.6" cy="501.0" r="5.9"/><circle cx="1264.4" cy="505.0" r="5.9"/><circle cx="1064.0" cy="523.3" r="5.9"/><circle cx="1048.3" cy="544.2" r="5.9"/><circle cx="1105.8" cy="527.3" r="5.9"/><circle cx="1085.5" cy="568.0" r="5.9"/><circle cx="1109.3" cy="448.5" r="5.9"/><circle cx="1544.8" cy="201.6" r="5.9"/><circle cx="1527.1" cy="210.4" r="5.9"/></g></svg>
<rect x="1017.5" y="163.0" width="592.7" height="441.1" fill="none" stroke="#000" stroke-width="1.2"/>
<text x="1043.9" y="628.8" class="tk" text-anchor="middle">−20</text>
<text x="1110.7" y="628.8" class="tk" text-anchor="middle">−15</text>
<text x="1177.4" y="628.8" class="tk" text-anchor="middle">−10</text>
<text x="1244.2" y="628.8" class="tk" text-anchor="middle">−5</text>
<text x="1310.9" y="628.8" class="tk" text-anchor="middle">0</text>
<text x="1377.7" y="628.8" class="tk" text-anchor="middle">5</text>
<text x="1444.4" y="628.8" class="tk" text-anchor="middle">10</text>
<text x="1511.2" y="628.8" class="tk" text-anchor="middle">15</text>
<text x="1577.9" y="628.8" class="tk" text-anchor="middle">20</text>
<text x="1004.9" y="579.8" class="tk" text-anchor="end">−40</text>
<text x="1004.9" y="483.6" class="tk" text-anchor="end">−20</text>
<text x="1004.9" y="387.4" class="tk" text-anchor="end">0</text>
<text x="1004.9" y="291.3" class="tk" text-anchor="end">20</text>
<text x="1004.9" y="195.1" class="tk" text-anchor="end">40</text>
<path d="M1043.9 604.1v5.8M1110.7 604.1v5.8M1177.4 604.1v5.8M1244.2 604.1v5.8M1310.9 604.1v5.8M1377.7 604.1v5.8M1444.4 604.1v5.8M1511.2 604.1v5.8M1577.9 604.1v5.8M1017.5 573.1h-5.8M1017.5 476.9h-5.8M1017.5 380.8h-5.8M1017.5 284.6h-5.8M1017.5 188.4h-5.8" stroke="#000" stroke-width="1.2" fill="none"/>
<rect x="1026.2" y="171.6" width="186" height="54.6" rx="3" fill="#fff" fill-opacity="0.8" stroke="#cccccc" stroke-width="1.2"/>
<circle cx="1049.0" cy="185.7" r="5.9" fill="#1f77b4"/>
<circle cx="1049.0" cy="211.0" r="5.9" fill="#ff7f0e"/>
<text x="1079.3" y="190.4" class="lg">Source Domain</text>
<text x="1079.3" y="214.9" class="lg">Target Domain</text>
<svg x="1017.5" y="728.6" width="592.7" height="440.8" viewBox="1017.5 728.6 592.7 440.8" overflow="hidden"><g fill="#1f77b4"><circle cx="1196.9" cy="873.1" r="5.9"/><circle cx="1209.7" cy="875.4" r="5.9"/><circle cx="1186.5" cy="877.7" r="5.9"/><circle cx="1174.8" cy="886.3" r="5.9"/><circle cx="1180.6" cy="890.9" r="5.9"/><circle cx="1172.4" cy="894.4" r="5.9"/><circle cx="1184.1" cy="896.8" r="5.9"/><circle cx="1199.1" cy="897.9" r="5.9"/><circle cx="1203.8" cy="888.6" r="5.9"/><circle cx="1213.1" cy="886.3" r="5.9"/><circle cx="1210.8" cy="899.1" r="5.9"/><circle cx="1226.4" cy="892.7" r="5.9"/><circle cx="1198.0" cy="908.4" r="5.9"/><circle cx="1175.9" cy="914.2" r="5.9"/><circle cx="1178.3" cy="920.0" r="5.9"/><circle cx="1185.2" cy="923.4" r="5.9"/><circle cx="1172.4" cy="931.6" r="5.9"/><circle cx="1187.5" cy="933.9" r="5.9"/><circle cx="1193.3" cy="937.4" r="5.9"/><circle cx="1208.4" cy="920.0" r="5.9"/><circle cx="1217.7" cy="922.3" r="5.9"/><circle cx="1224.7" cy="916.5" r="5.9"/><circle cx="1235.1" cy="916.5" r="5.9"/><circle cx="1237.5" cy="904.9" r="5.9"/><circle cx="1245.6" cy="914.2" r="5.9"/><circle cx="1252.5" cy="904.9" r="5.9"/><circle cx="1207.3" cy="929.3" r="5.9"/><circle cx="1224.7" cy="931.6" r="5.9"/><circle cx="1220.0" cy="938.5" r="5.9"/><circle cx="1244.4" cy="923.4" r="5.9"/><circle cx="1254.9" cy="928.1" r="5.9"/><circle cx="1240.9" cy="935.1" r="5.9"/><circle cx="1246.7" cy="940.9" r="5.9"/><circle cx="1257.2" cy="940.9" r="5.9"/><circle cx="1281.6" cy="899.1" r="5.9"/><circle cx="1281.6" cy="909.5" r="5.9"/><circle cx="1271.1" cy="915.3" r="5.9"/><circle cx="1293.2" cy="910.1" r="5.9"/><circle cx="1285.0" cy="922.3" r="5.9"/><circle cx="1293.2" cy="931.6" r="5.9"/><circle cx="1271.1" cy="940.9" r="5.9"/><circle cx="1280.4" cy="945.5" r="5.9"/><circle cx="1263.0" cy="947.8" r="5.9"/><circle cx="1270.0" cy="953.6" r="5.9"/><circle cx="1275.8" cy="957.1" r="5.9"/><circle cx="1234.0" cy="947.8" r="5.9"/><circle cx="1242.1" cy="954.8" r="5.9"/><circle cx="1229.3" cy="959.4" r="5.9"/><circle cx="1264.2" cy="962.9" r="5.9"/><circle cx="1257.2" cy="966.4" r="5.9"/><circle cx="1268.8" cy="967.6" r="5.9"/><circle cx="1254.9" cy="976.8" r="5.9"/><circle cx="1274.6" cy="978.0" r="5.9"/><circle cx="1246.7" cy="980.3" r="5.9"/><circle cx="1238.6" cy="974.5" r="5.9"/><circle cx="1231.6" cy="966.4" r="5.9"/><circle cx="1225.8" cy="972.2" r="5.9"/><circle cx="1211.9" cy="972.2" r="5.9"/><circle cx="1206.1" cy="962.9" r="5.9"/><circle cx="1191.0" cy="953.6" r="5.9"/><circle cx="1182.9" cy="961.8" r="5.9"/><circle cx="1192.2" cy="971.0" r="5.9"/><circle cx="1171.3" cy="979.2" r="5.9"/><circle cx="1186.4" cy="987.3" r="5.9"/><circle cx="1193.3" cy="988.5" r="5.9"/><circle cx="1150.4" cy="978.0" r="5.9"/><circle cx="1139.9" cy="971.0" r="5.9"/><circle cx="1137.6" cy="961.8" r="5.9"/><circle cx="1149.2" cy="959.4" r="5.9"/><circle cx="1155.0" cy="968.7" r="5.9"/><circle cx="1163.2" cy="968.7" r="5.9"/><circle cx="1131.8" cy="926.9" r="5.9"/><circle cx="1136.5" cy="924.6" r="5.9"/><circle cx="1128.3" cy="931.6" r="5.9"/><circle cx="1144.6" cy="940.9" r="5.9"/><circle cx="1292.0" cy="973.4" r="5.9"/><circle cx="1289.7" cy="983.8" r="5.9"/><circle cx="1292.0" cy="995.4" r="5.9"/><circle cx="1305.1" cy="935.1" r="5.9"/><circle cx="1315.0" cy="945.5" r="5.9"/><circle cx="1305.1" cy="952.5" r="5.9"/><circle cx="1308.6" cy="960.0" r="5.9"/><circle cx="1304.0" cy="959.4" r="5.9"/><circle cx="1336.5" cy="968.7" r="5.9"/><circle cx="1325.4" cy="973.9" r="5.9"/><circle cx="1316.7" cy="981.5" r="5.9"/><circle cx="1315.6" cy="987.3" r="5.9"/><circle cx="1348.1" cy="982.6" r="5.9"/><circle cx="1357.4" cy="985.6" r="5.9"/><circle cx="1380.0" cy="993.1" r="5.9"/><circle cx="1382.9" cy="995.4" r="5.9"/><circle cx="1415.4" cy="989.6" r="5.9"/><circle cx="1300.5" cy="993.1" r="5.9"/><circle cx="1288.7" cy="1007.9" r="5.9"/><circle cx="1317.7" cy="1002.6" r="5.9"/><circle cx="1317.7" cy="1008.4" r="5.9"/><circle cx="1321.2" cy="1016.6" r="5.9"/><circle cx="1342.1" cy="1005.5" r="5.9"/><circle cx="1351.4" cy="1008.4" r="5.9"/><circle cx="1364.2" cy="1009.0" r="5.9"/><circle cx="1381.6" cy="1007.3" r="5.9"/><circle cx="1375.8" cy="1014.3" r="5.9"/><circle cx="1368.8" cy="1021.2" r="5.9"/><circle cx="1364.2" cy="1028.2" r="5.9"/><circle cx="1339.8" cy="1015.4" r="5.9"/><circle cx="1335.1" cy="1022.4" r="5.9"/><circle cx="1334.0" cy="1018.9" r="5.9"/><circle cx="1301.5" cy="1023.5" r="5.9"/><circle cx="1303.8" cy="1031.7" r="5.9"/><circle cx="1296.8" cy="1038.6" r="5.9"/><circle cx="1296.8" cy="1043.3" r="5.9"/><circle cx="1287.5" cy="1046.2" r="5.9"/><circle cx="1316.0" cy="1041.5" r="5.9"/><circle cx="1330.5" cy="1034.0" r="5.9"/><circle cx="1338.6" cy="1039.2" r="5.9"/><circle cx="1340.9" cy="1052.6" r="5.9"/><circle cx="1349.1" cy="1051.4" r="5.9"/><circle cx="1358.3" cy="1048.5" r="5.9"/><circle cx="1378.1" cy="1036.3" r="5.9"/><circle cx="1386.2" cy="1035.1" r="5.9"/><circle cx="1394.3" cy="1025.9" r="5.9"/><circle cx="1390.8" cy="1051.4" r="5.9"/><circle cx="1392.0" cy="1059.5" r="5.9"/><circle cx="1380.4" cy="1066.5" r="5.9"/><circle cx="1421.4" cy="1002.6" r="5.9"/><circle cx="1424.9" cy="1007.3" r="5.9"/><circle cx="1405.7" cy="1015.4" r="5.9"/><circle cx="1399.3" cy="1027.0" r="5.9"/><circle cx="1426.0" cy="1021.2" r="5.9"/><circle cx="1437.6" cy="1018.9" r="5.9"/><circle cx="1443.4" cy="1024.7" r="5.9"/><circle cx="1416.7" cy="1034.0" r="5.9"/><circle cx="1441.1" cy="1030.5" r="5.9"/><circle cx="1449.2" cy="1037.5" r="5.9"/><circle cx="1455.0" cy="1046.8" r="5.9"/><circle cx="1457.4" cy="1056.0" r="5.9"/><circle cx="1459.7" cy="1030.5" r="5.9"/><circle cx="1435.3" cy="1042.1" r="5.9"/><circle cx="1429.5" cy="1049.1" r="5.9"/><circle cx="1401.6" cy="1046.8" r="5.9"/><circle cx="1415.6" cy="1051.4" r="5.9"/><circle cx="1413.3" cy="1060.7" r="5.9"/><circle cx="1423.7" cy="1068.8" r="5.9"/><circle cx="1438.8" cy="1063.0" r="5.9"/><circle cx="1437.6" cy="1072.3" r="5.9"/><circle cx="1441.1" cy="1074.6" r="5.9"/><circle cx="1471.3" cy="1038.6" r="5.9"/><circle cx="1478.3" cy="1040.9" r="5.9"/><circle cx="1472.4" cy="1049.1" r="5.9"/><circle cx="1474.8" cy="1057.2" r="5.9"/><circle cx="1484.1" cy="1060.7" r="5.9"/><circle cx="1491.0" cy="1030.5" r="5.9"/><circle cx="1499.1" cy="1021.2" r="5.9"/><circle cx="1491.0" cy="1043.3" r="5.9"/><circle cx="1489.9" cy="1047.9" r="5.9"/><circle cx="1495.7" cy="1054.9" r="5.9"/><circle cx="1510.8" cy="1050.2" r="5.9"/><circle cx="1517.7" cy="1059.5" r="5.9"/><circle cx="1506.1" cy="1061.3" r="5.9"/><circle cx="1472.4" cy="1070.0" r="5.9"/><circle cx="1477.1" cy="1074.6" r="5.9"/><circle cx="1477.1" cy="1085.1" r="5.9"/><circle cx="1491.0" cy="1068.8" r="5.9"/><circle cx="1498.0" cy="1078.1" r="5.9"/><circle cx="1511.9" cy="1071.1" r="5.9"/><circle cx="1513.1" cy="1075.8" r="5.9"/><circle cx="1520.0" cy="1082.2" r="5.9"/><circle cx="1415.6" cy="1089.1" r="5.9"/><circle cx="1426.0" cy="1086.8" r="5.9"/><circle cx="1443.4" cy="1089.7" r="5.9"/><circle cx="1445.8" cy="1096.7" r="5.9"/><circle cx="1462.0" cy="1086.2" r="5.9"/><circle cx="1466.6" cy="1090.9" r="5.9"/><circle cx="1473.6" cy="1096.7" r="5.9"/><circle cx="1459.7" cy="1099.6" r="5.9"/></g><g fill="#ff7f0e"><circle cx="1048.3" cy="773.3" r="5.9"/><circle cx="1049.5" cy="768.6" r="5.9"/><circle cx="1056.5" cy="762.2" r="5.9"/><circle cx="1066.3" cy="753.0" r="5.9"/><circle cx="1066.9" cy="767.5" r="5.9"/><circle cx="1071.6" cy="761.7" r="5.9"/><circle cx="1081.4" cy="751.8" r="5.9"/><circle cx="1080.3" cy="759.3" r="5.9"/><circle cx="1076.2" cy="774.4" r="5.9"/><circle cx="1085.5" cy="773.9" r="5.9"/><circle cx="1092.4" cy="747.2" r="5.9"/><circle cx="1098.3" cy="751.2" r="5.9"/><circle cx="1099.4" cy="759.3" r="5.9"/><circle cx="1113.3" cy="748.9" r="5.9"/><circle cx="1116.8" cy="753.5" r="5.9"/><circle cx="1123.8" cy="761.7" r="5.9"/><circle cx="1134.2" cy="757.0" r="5.9"/><circle cx="1140.0" cy="762.8" r="5.9"/><circle cx="1152.2" cy="761.1" r="5.9"/><circle cx="1155.1" cy="767.5" r="5.9"/><circle cx="1108.7" cy="772.1" r="5.9"/><circle cx="1122.6" cy="768.6" r="5.9"/><circle cx="1128.4" cy="772.1" r="5.9"/><circle cx="1120.3" cy="779.1" r="5.9"/><circle cx="1138.9" cy="772.1" r="5.9"/><circle cx="1147.0" cy="776.8" r="5.9"/><circle cx="1149.3" cy="783.7" r="5.9"/><circle cx="1170.2" cy="770.9" r="5.9"/><circle cx="1178.3" cy="768.6" r="5.9"/><circle cx="1181.8" cy="781.4" r="5.9"/><circle cx="1178.3" cy="784.9" r="5.9"/><circle cx="1198.1" cy="782.0" r="5.9"/><circle cx="1082.0" cy="788.9" r="5.9"/><circle cx="1075.0" cy="795.3" r="5.9"/><circle cx="1085.5" cy="801.1" r="5.9"/><circle cx="1094.8" cy="797.6" r="5.9"/><circle cx="1100.6" cy="805.8" r="5.9"/><circle cx="1086.6" cy="809.3" r="5.9"/><circle cx="1079.7" cy="816.2" r="5.9"/><circle cx="1070.4" cy="820.9" r="5.9"/><circle cx="1077.4" cy="825.5" r="5.9"/><circle cx="1112.2" cy="789.5" r="5.9"/><circle cx="1111.0" cy="795.3" r="5.9"/><circle cx="1127.3" cy="791.8" r="5.9"/><circle cx="1118.0" cy="804.6" r="5.9"/><circle cx="1113.3" cy="813.9" r="5.9"/><circle cx="1105.2" cy="813.9" r="5.9"/><circle cx="1098.3" cy="820.9" r="5.9"/><circle cx="1146.4" cy="797.6" r="5.9"/><circle cx="1139.5" cy="809.3" r="5.9"/><circle cx="1128.4" cy="819.7" r="5.9"/><circle cx="1137.7" cy="824.3" r="5.9"/><circle cx="1130.8" cy="827.8" r="5.9"/><circle cx="1145.8" cy="819.7" r="5.9"/><circle cx="1145.8" cy="826.7" r="5.9"/><circle cx="1158.6" cy="815.1" r="5.9"/><circle cx="1158.6" cy="825.5" r="5.9"/><circle cx="1044.9" cy="812.7" r="5.9"/><circle cx="1108.7" cy="829.0" r="5.9"/><circle cx="1108.7" cy="834.8" r="5.9"/><circle cx="1114.5" cy="840.6" r="5.9"/><circle cx="1087.8" cy="838.3" r="5.9"/><circle cx="1093.6" cy="844.1" r="5.9"/><circle cx="1108.7" cy="845.2" r="5.9"/><circle cx="1100.0" cy="852.8" r="5.9"/><circle cx="1137.7" cy="838.3" r="5.9"/><circle cx="1061.7" cy="837.1" r="5.9"/><circle cx="1075.6" cy="849.9" r="5.9"/><circle cx="1055.3" cy="858.6" r="5.9"/><circle cx="1080.8" cy="864.4" r="5.9"/><circle cx="1181.8" cy="822.0" r="5.9"/><circle cx="1177.2" cy="830.1" r="5.9"/><circle cx="1187.6" cy="834.8" r="5.9"/><circle cx="1185.3" cy="844.1" r="5.9"/><circle cx="1190.5" cy="855.1" r="5.9"/><circle cx="1191.7" cy="867.9" r="5.9"/><circle cx="1206.2" cy="829.6" r="5.9"/><circle cx="1154.0" cy="866.1" r="5.9"/><circle cx="1159.8" cy="870.8" r="5.9"/><circle cx="1169.1" cy="875.4" r="5.9"/><circle cx="1135.4" cy="877.2" r="5.9"/><circle cx="1128.3" cy="884.0" r="5.9"/><circle cx="1156.2" cy="892.1" r="5.9"/><circle cx="1144.0" cy="899.1" r="5.9"/><circle cx="1135.3" cy="911.3" r="5.9"/><circle cx="1170.1" cy="902.6" r="5.9"/><circle cx="1222.9" cy="867.2" r="5.9"/><circle cx="1234.0" cy="861.9" r="5.9"/><circle cx="1243.3" cy="857.3" r="5.9"/><circle cx="1250.2" cy="870.1" r="5.9"/><circle cx="1257.2" cy="864.3" r="5.9"/><circle cx="1271.7" cy="866.6" r="5.9"/><circle cx="1292.0" cy="866.6" r="5.9"/><circle cx="1231.6" cy="882.2" r="5.9"/><circle cx="1244.4" cy="881.7" r="5.9"/><circle cx="1243.3" cy="888.6" r="5.9"/><circle cx="1244.4" cy="895.6" r="5.9"/><circle cx="1258.3" cy="888.0" r="5.9"/><circle cx="1215.4" cy="906.0" r="5.9"/><circle cx="1166.6" cy="947.8" r="5.9"/><circle cx="1200.3" cy="945.5" r="5.9"/><circle cx="1218.3" cy="949.0" r="5.9"/><circle cx="1111.5" cy="970.5" r="5.9"/><circle cx="1115.0" cy="991.9" r="5.9"/><circle cx="1220.6" cy="982.6" r="5.9"/><circle cx="1232.8" cy="994.3" r="5.9"/><circle cx="1261.2" cy="989.6" r="5.9"/><circle cx="1304.0" cy="859.6" r="5.9"/><circle cx="1308.6" cy="861.9" r="5.9"/><circle cx="1328.9" cy="870.6" r="5.9"/><circle cx="1373.0" cy="907.8" r="5.9"/><circle cx="1396.2" cy="917.4" r="5.9"/><circle cx="1328.3" cy="921.7" r="5.9"/><circle cx="1349.8" cy="924.4" r="5.9"/><circle cx="1361.4" cy="932.7" r="5.9"/><circle cx="1330.7" cy="943.2" r="5.9"/><circle cx="1341.1" cy="968.7" r="5.9"/><circle cx="1407.9" cy="981.5" r="5.9"/><circle cx="1435.7" cy="991.9" r="5.9"/><circle cx="1465.3" cy="995.4" r="5.9"/><circle cx="1332.4" cy="995.4" r="5.9"/><circle cx="1350.4" cy="997.2" r="5.9"/><circle cx="1209.8" cy="1007.9" r="5.9"/><circle cx="1220.8" cy="1013.1" r="5.9"/><circle cx="1374.6" cy="1074.6" r="5.9"/><circle cx="1482.3" cy="1005.5" r="5.9"/><circle cx="1507.3" cy="1007.9" r="5.9"/><circle cx="1451.0" cy="1015.4" r="5.9"/><circle cx="1527.6" cy="1032.8" r="5.9"/><circle cx="1522.9" cy="1045.0" r="5.9"/><circle cx="1505.0" cy="1038.6" r="5.9"/><circle cx="1564.7" cy="1036.3" r="5.9"/><circle cx="1565.9" cy="1043.3" r="5.9"/><circle cx="1560.7" cy="1052.6" r="5.9"/><circle cx="1565.9" cy="1057.2" r="5.9"/><circle cx="1582.7" cy="1050.8" r="5.9"/><circle cx="1582.7" cy="1063.0" r="5.9"/><circle cx="1537.5" cy="1056.6" r="5.9"/><circle cx="1550.2" cy="1063.0" r="5.9"/><circle cx="1539.8" cy="1070.0" r="5.9"/><circle cx="1530.5" cy="1075.2" r="5.9"/><circle cx="1535.1" cy="1085.1" r="5.9"/><circle cx="1557.2" cy="1078.1" r="5.9"/><circle cx="1565.3" cy="1081.6" r="5.9"/><circle cx="1563.0" cy="1086.2" r="5.9"/><circle cx="1403.4" cy="1070.0" r="5.9"/><circle cx="1428.3" cy="1098.4" r="5.9"/><circle cx="1441.7" cy="1109.4" r="5.9"/><circle cx="1499.1" cy="1085.1" r="5.9"/><circle cx="1503.8" cy="1096.7" r="5.9"/><circle cx="1514.2" cy="1094.9" r="5.9"/><circle cx="1484.6" cy="1102.5" r="5.9"/><circle cx="1505.0" cy="1108.3" r="5.9"/><circle cx="1470.1" cy="1109.4" r="5.9"/><circle cx="1482.9" cy="1116.4" r="5.9"/><circle cx="1489.9" cy="1119.3" r="5.9"/><circle cx="1466.6" cy="1126.3" r="5.9"/><circle cx="1502.6" cy="1123.9" r="5.9"/><circle cx="1550.2" cy="1100.1" r="5.9"/><circle cx="1565.9" cy="1102.5" r="5.9"/><circle cx="1565.9" cy="1108.3" r="5.9"/><circle cx="1557.2" cy="1116.4" r="5.9"/><circle cx="1553.7" cy="1124.5" r="5.9"/><circle cx="1528.2" cy="1117.6" r="5.9"/><circle cx="1520.0" cy="1123.4" r="5.9"/><circle cx="1534.0" cy="1125.7" r="5.9"/><circle cx="1513.1" cy="1129.2" r="5.9"/><circle cx="1503.8" cy="1136.1" r="5.9"/><circle cx="1514.2" cy="1137.3" r="5.9"/><circle cx="1542.1" cy="1132.6" r="5.9"/><circle cx="1557.2" cy="1137.3" r="5.9"/><circle cx="1529.3" cy="1139.6" r="5.9"/><circle cx="1546.7" cy="1141.9" r="5.9"/><circle cx="1508.4" cy="1144.3" r="5.9"/><circle cx="1520.0" cy="1144.3" r="5.9"/><circle cx="1534.0" cy="1144.3" r="5.9"/><circle cx="1573.4" cy="1135.6" r="5.9"/><circle cx="1578.1" cy="1145.4" r="5.9"/><circle cx="1515.6" cy="1149.6" r="5.9"/><circle cx="1548.1" cy="1149.6" r="5.9"/></g></svg>
<rect x="1017.5" y="728.6" width="592.7" height="440.8" fill="none" stroke="#000" stroke-width="1.2"/>
<text x="1082.2" y="1194.1" class="tk" text-anchor="middle">−15</text>
<text x="1155.2" y="1194.1" class="tk" text-anchor="middle">−10</text>
<text x="1228.3" y="1194.1" class="tk" text-anchor="middle">−5</text>
<text x="1301.3" y="1194.1" class="tk" text-anchor="middle">0</text>
<text x="1374.3" y="1194.1" class="tk" text-anchor="middle">5</text>
<text x="1447.4" y="1194.1" class="tk" text-anchor="middle">10</text>
<text x="1520.4" y="1194.1" class="tk" text-anchor="middle">15</text>
<text x="1593.5" y="1194.1" class="tk" text-anchor="middle">20</text>
<text x="1004.9" y="1160.7" class="tk" text-anchor="end">−40</text>
<text x="1004.9" y="1062.7" class="tk" text-anchor="end">−20</text>
<text x="1004.9" y="964.7" class="tk" text-anchor="end">0</text>
<text x="1004.9" y="866.7" class="tk" text-anchor="end">20</text>
<text x="1004.9" y="768.7" class="tk" text-anchor="end">40</text>
<path d="M1082.2 1169.4v5.8M1155.2 1169.4v5.8M1228.3 1169.4v5.8M1301.3 1169.4v5.8M1374.3 1169.4v5.8M1447.4 1169.4v5.8M1520.4 1169.4v5.8M1593.5 1169.4v5.8M1017.5 1154.0h-5.8M1017.5 1056.0h-5.8M1017.5 958.0h-5.8M1017.5 860.0h-5.8M1017.5 762.0h-5.8" stroke="#000" stroke-width="1.2" fill="none"/>
<rect x="1415.4" y="736.9" width="186" height="54.6" rx="3" fill="#fff" fill-opacity="0.8" stroke="#cccccc" stroke-width="1.2"/>
<circle cx="1438.2" cy="751.0" r="5.9" fill="#1f77b4"/>
<circle cx="1438.2" cy="776.3" r="5.9" fill="#ff7f0e"/>
<text x="1468.5" y="755.7" class="lg">Source Domain</text>
<text x="1468.5" y="780.2" class="lg">Target Domain</text>
</svg>
</body></html>
